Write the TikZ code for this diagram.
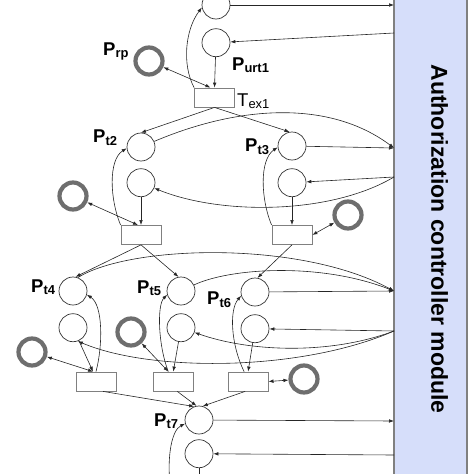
\documentclass[tikz,border=0pt]{standalone}
\usepackage{fontspec}
\setmainfont{Liberation Sans}
\usetikzlibrary{positioning, arrows.meta, calc}
\definecolor{moduleCol}{RGB}{214,222,250}
\definecolor{frameCol}{HTML}{808080}
\definecolor{ringCol}{HTML}{6E6E6E}
\newcommand{\plab}[1]{P\textsubscript{#1}}

\begin{document}
\begin{tikzpicture}[
    x=1pt, y=-1pt,
    % Node styles
    place/.style={
        circle,
        draw=black!80,
        line width=0.7pt,
        minimum size=28pt,
        inner sep=0pt
    },
    trans/.style={
        rectangle,
        draw=frameCol,
        line width=0.8pt,
        minimum width=40pt,
        minimum height=19pt,
        inner sep=0pt
    },
    ring/.style={
        circle,
        draw=ringCol,
        line width=4.2pt,
        minimum size=27pt,
        inner sep=0pt
    },
    module/.style={
        rectangle,
        draw=frameCol,
        fill=moduleCol,
        line width=1.2pt,
        minimum width=73pt,
        minimum height=520pt
    },
    plabel/.style={
        font=\fontsize{18.5}{20}\selectfont\bfseries,
        inner sep=0pt,
        anchor=base west
    },
    tlabel/.style={
        font=\fontsize{18.5}{20}\selectfont,
        inner sep=0pt,
        anchor=base west
    },
    arrow/.style={
        -{Latex[length=5pt,width=3.6pt]},
        line width=0.6pt,
        draw=black!85
    },
    dblarrow/.style={
        {Latex[length=5pt,width=3.6pt]}-{Latex[length=5pt,width=3.6pt]},
        line width=0.6pt,
        draw=black!85
    }
]
    \useasboundingbox (0,0) rectangle (474,474);

    % ==== MODULE ====
    \node[module] (acm) at (430.5,237) {};
    \node[rotate=-90, font=\fontsize{23}{25}\selectfont\bfseries, inner sep=0pt] (acmtext) at (439.5,239) {Authorization controller module};

    % module ports
    \coordinate (m0) at (394,5);
    \coordinate (m1) at (394,33);
    \coordinate (m2) at (394,148);
    \coordinate (m3) at (394,177);
    \coordinate (m4) at (394,291);
    \coordinate (m5) at (394,331);
    \coordinate (m6) at (394,421);
    \coordinate (m7) at (394,455);

    % ==== TOP STAGE ====
    \node[place] (ptop) at (216,5) {};
    \node[place, below=9pt of ptop] (purt) {};
    \node[plabel] (lurt) at (232,70) {\plab{urt1}};
    \node[trans] (tex) at (214.5,97.5) {};
    \node[tlabel] (ltex) at (237,106) {T\textsubscript{ex1}};
    \node[ring] (prp) at (149,61) {};
    \node[plabel] (lrp) at (103,55) {\plab{rp}};

    % ==== SECOND STAGE ====
    \node[place] (pt2) at (141,147) {};
    \node[place, below=7pt of pt2] (pt2b) {};
    \node[trans, below=28pt of pt2b] (tt2) {};
    \node[ring] (rt2) at (73,196) {};
    \node[plabel] (lt2) at (93,142) {\plab{t2}};

    \node[place] (pt3) at (292,146) {};
    \node[place, below=8pt of pt3] (pt3b) {};
    \node[trans, below=28pt of pt3b] (tt3) {};
    \node[ring] (rt3) at (348,215) {};
    \node[plabel] (lt3) at (245,151) {\plab{t3}};

    % ==== THIRD STAGE ====
    \node[place] (pt4) at (73,291) {};
    \node[place, below=8pt of pt4] (pt4b) {};
    \node[plabel] (lt4) at (31,292) {\plab{t4}};
    \node[place] (pt5) at (181,291) {};
    \node[place, below=8pt of pt5] (pt5b) {};
    \node[plabel] (lt5) at (137,293) {\plab{t5}};
    \node[place] (pt6) at (255,292) {};
    \node[place, below=8pt of pt6] (pt6b) {};
    \node[plabel] (lt6) at (207,304) {\plab{t6}};

    \node[trans] (tt4) at (96,381.5) {};
    \node[trans, right=36.5pt of tt4] (tt5) {};
    \node[trans, right=34pt of tt5] (tt6) {};
    \node[ring] (rt4) at (32,352) {};
    \node[ring] (rt5) at (131,332) {};
    \node[ring] (rt6) at (304,379) {};

    % ==== FOURTH STAGE ====
    \node[place] (pt7) at (199,420) {};
    \node[place, below=5pt of pt7] (pt7b) {};
    \node[plabel] (lt7) at (154,426) {\plab{t7}};
    \coordinate (b1) at (170,485);
    \coordinate (b2) at (199,485);

    % ==== CONNECTIONS ====

    % Top stage
    \draw[arrow] (ptop) -- (m0);
    \draw[arrow] (m1) -- (purt);
    \draw[arrow] (purt) -- (tex.north);
    \draw[dblarrow] (prp) -- ([xshift=-4pt]tex.north);
    \draw[arrow] (tex.north west) .. controls (182,65) and (185,30) .. (ptop.190);

    % Top -> second stage
    \draw[arrow] (tex.south) -- (pt2.north);
    \draw[arrow] (tex.south) -- (pt3.100);

    % Second stage <-> module
    \draw[arrow] (pt2) .. controls (240,105) and (330,100) .. (m2);
    \draw[arrow] (pt3) -- (m2);
    \draw[arrow] (m3) -- (pt3b);
    \draw[arrow] (m3) .. controls (330,215) and (220,215) .. (pt2b);

    % Second stage internal
    \draw[arrow] (pt2b) -- (tt2);
    \draw[arrow] (pt3b) -- (tt3);
    \draw[arrow] (tt2.north west) .. controls (110,200) and (108,160) .. (pt2.185);
    \draw[arrow] (tt3.north west) .. controls (261,200) and (259,160) .. (pt3.185);
    \draw[dblarrow] (rt2) -- ([xshift=-3pt]tt2.north);
    \draw[dblarrow] (tt3.east) -- (rt3);

    % Second -> third stage
    \draw[arrow] (tt2.south) -- (pt4.80);
    \draw[arrow] (tt2.south) -- (pt5.100);
    \draw[arrow] (tt3.south) -- (pt6.80);

    % Third stage <-> module
    \draw[arrow] (pt4.70) .. controls (130,245) and (300,240) .. (m4);
    \draw[arrow] (pt5) .. controls (230,268) and (320,262) .. (m4);
    \draw[arrow] (pt6) -- (m4);
    \draw[arrow] (m5) -- (pt6b);
    \draw[arrow] (m5) .. controls (330,355) and (250,352) .. (pt5b);
    \draw[arrow] (m5) .. controls (300,372) and (150,372) .. (pt4b.-70);

    % Third stage internal
    \draw[arrow] (pt4b) -- ([xshift=-3pt]tt4.north);
    \draw[arrow] (pt5b) -- (tt5.north);
    \draw[arrow] (pt6b) -- (tt6.north);
    \draw[arrow] (tt4.north) .. controls (103,345) and (103,305) .. (pt4.-15);
    \draw[arrow] ([xshift=-5pt]tt5.north) .. controls (158,345) and (157,305) .. (pt5.195);
    \draw[arrow] ([xshift=-4pt]tt6.north) .. controls (231,345) and (229,310) .. (pt6.195);
    \draw[dblarrow] (rt4) -- ([xshift=-3pt]tt4.north);
    \draw[dblarrow] (rt5) -- ([xshift=-5pt]tt5.north);
    \draw[dblarrow] (tt6.east) -- (rt6);

    % Third -> fourth stage
    \draw[arrow] ([xshift=7pt]tt4.south) -- (pt7.110);
    \draw[arrow] ([xshift=4pt]tt5.south) -- (pt7.100);
    \draw[arrow] ([xshift=-3pt]tt6.south) -- (pt7.75);

    % Fourth stage <-> module
    \draw[arrow] (pt7) -- (m6);
    \draw[arrow] (m7) -- (pt7b);
    \draw[arrow] (b1) .. controls (167,455) and (172,430) .. (pt7.195);
    \draw[arrow] (pt7b) -- (b2);

\end{tikzpicture}
\end{document}
